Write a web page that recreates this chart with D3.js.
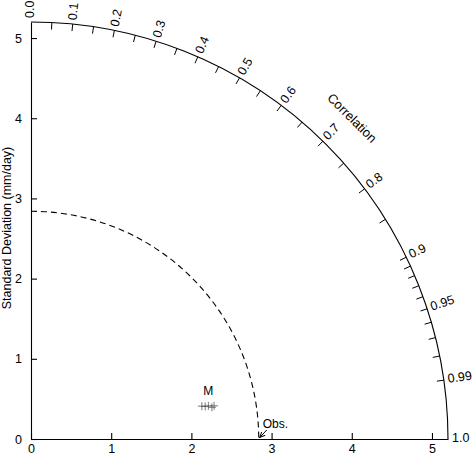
<!DOCTYPE html>
<html>
<head>
<meta charset="utf-8">
<script src="https://cdn.jsdelivr.net/npm/d3@7"></script>
<style>
  body { margin: 0; background: #fff; }
  text { font-family: "Liberation Sans", Arial, sans-serif; fill: #000; }
</style>
</head>
<body>
<div id="chart"></div>
<script>
// data
const stdTicks = [0, 1, 2, 3, 4, 5];
const corrLabels = ['0.0', '0.1', '0.2', '0.3', '0.4', '0.5', '0.6', '0.7', '0.8', '0.9', '0.95', '0.99', '1.0'];
const corrMinor = [0.05, 0.15, 0.25, 0.35, 0.45, 0.55, 0.65, 0.75, 0.85, 0.91, 0.92, 0.93, 0.94, 0.96, 0.97, 0.98];
const maxStd = 5.2;
const obsStd = 2.84;
// model runs (std dev, correlation)
const modelStd = [2.17, 2.21, 2.25, 2.29, 2.32];
const modelCorr = [0.982, 0.983, 0.983, 0.985, 0.984];

const width = 474, height = 456;
const ox = 31, oy = 439;

const svg = d3.select('#chart').append('svg')
    .attr('width', width)
    .attr('height', height);

const x = d3.scaleLinear().domain([0, maxStd]).range([ox, 448]);
const y = d3.scaleLinear().domain([0, maxStd]).range([oy, oy - (448 - ox)]);
const rpx = s => x(s) - x(0);
const R = rpx(maxStd);

// axes
const xAxis = svg.append('g')
    .attr('transform', `translate(0,${oy})`)
    .call(d3.axisBottom(x).tickValues(stdTicks).tickFormat(d3.format('d')).tickSizeInner(-6).tickSizeOuter(0).tickPadding(5));
const yAxis = svg.append('g')
    .attr('transform', `translate(${ox},0)`)
    .call(d3.axisLeft(y).tickValues(stdTicks).tickFormat(d3.format('d')).tickSizeInner(-6).tickSizeOuter(0).tickPadding(9));
[xAxis, yAxis].forEach(g => {
    g.attr('font-family', null).attr('font-size', null);
    g.selectAll('text').style('font-size', '12.5px');
    g.selectAll('path, line').attr('stroke', '#000').attr('stroke-width', 1.1);
});

// outer arc
const p = d3.path();
p.moveTo(x(0), y(maxStd));
p.arc(ox, oy, R, -Math.PI / 2, 0);
svg.append('path').attr('d', p.toString())
    .attr('fill', 'none').attr('stroke', '#000').attr('stroke-width', 1.1);

// correlation ticks
const tickVals = corrLabels.map(Number).filter(c => c > 0 && c < 1).concat(corrMinor);
svg.append('g').selectAll('line')
    .data(tickVals)
    .join('line')
    .attr('x1', c => ox + R * c)
    .attr('y1', c => oy - R * Math.sin(Math.acos(c)))
    .attr('x2', c => ox + (R - 7) * c)
    .attr('y2', c => oy - (R - 7) * Math.sin(Math.acos(c)))
    .attr('stroke', '#000').attr('stroke-width', 1);

// correlation labels
svg.append('g').selectAll('text')
    .data(corrLabels)
    .join('text')
    .attr('transform', d => {
        const a = Math.acos(+d);
        return `translate(${ox + (R + 4) * Math.cos(a)},${oy - (R + 4) * Math.sin(a)}) rotate(${-a * 180 / Math.PI})`;
    })
    .attr('dominant-baseline', 'middle')
    .style('font-size', '12.5px')
    .text(d => d);

// "Correlation" title
const ta = Math.PI / 4, tr = R + 36;
svg.append('text')
    .attr('transform', `translate(${ox + tr * Math.cos(ta)},${oy - tr * Math.sin(ta)}) rotate(45)`)
    .attr('text-anchor', 'middle')
    .attr('dominant-baseline', 'middle')
    .style('font-size', '13px')
    .text('Correlation');

// y title
svg.append('text')
    .attr('transform', `translate(11,228) rotate(-90)`)
    .attr('text-anchor', 'middle')
    .style('font-size', '12.5px')
    .text('Standard Deviation (mm/day)');

// obs dashed arc
const q = d3.path();
q.moveTo(x(0), y(obsStd));
q.arc(ox, oy, rpx(obsStd), -Math.PI / 2, 0);
svg.append('path').attr('d', q.toString())
    .attr('fill', 'none').attr('stroke', '#000').attr('stroke-width', 1.1)
    .attr('stroke-dasharray', '6,4');

// obs arrow + label
svg.append('defs').append('marker')
    .attr('id', 'arr').attr('viewBox', '0 0 10 10')
    .attr('refX', 9).attr('refY', 5)
    .attr('markerWidth', 6).attr('markerHeight', 6)
    .attr('orient', 'auto')
    .append('path').attr('d', 'M0,1 L9,5 L0,9').attr('fill', 'none').attr('stroke', '#000').attr('stroke-width', 1.6);
const obsX = x(obsStd);
svg.append('line')
    .attr('x1', obsX + 8).attr('y1', oy - 9)
    .attr('x2', obsX + 1).attr('y2', oy - 1.5)
    .attr('stroke', '#000').attr('stroke-width', 1)
    .attr('marker-end', 'url(#arr)');
svg.append('text')
    .attr('x', obsX + 4).attr('y', oy - 11)
    .style('font-size', '12px')
    .text('Obs.');

// model points
const models = modelStd.map((s, i) => ({ s, c: modelCorr[i] }));
const px = d => x(d.s * d.c);
const py = d => y(d.s * Math.sin(Math.acos(d.c)));
const mg = svg.append('g').attr('stroke', '#555').attr('stroke-width', 0.8);
mg.selectAll('.h').data(models).join('line')
    .attr('x1', d => px(d) - 4).attr('x2', d => px(d) + 4)
    .attr('y1', py).attr('y2', py);
mg.selectAll('.v').data(models).join('line')
    .attr('x1', px).attr('x2', px)
    .attr('y1', d => py(d) - 4).attr('y2', d => py(d) + 4);
svg.append('text')
    .attr('x', d3.mean(models, px)).attr('y', d3.min(models, py) - 11)
    .attr('text-anchor', 'middle')
    .style('font-size', '12px')
    .text('M');
</script>
</body>
</html>
